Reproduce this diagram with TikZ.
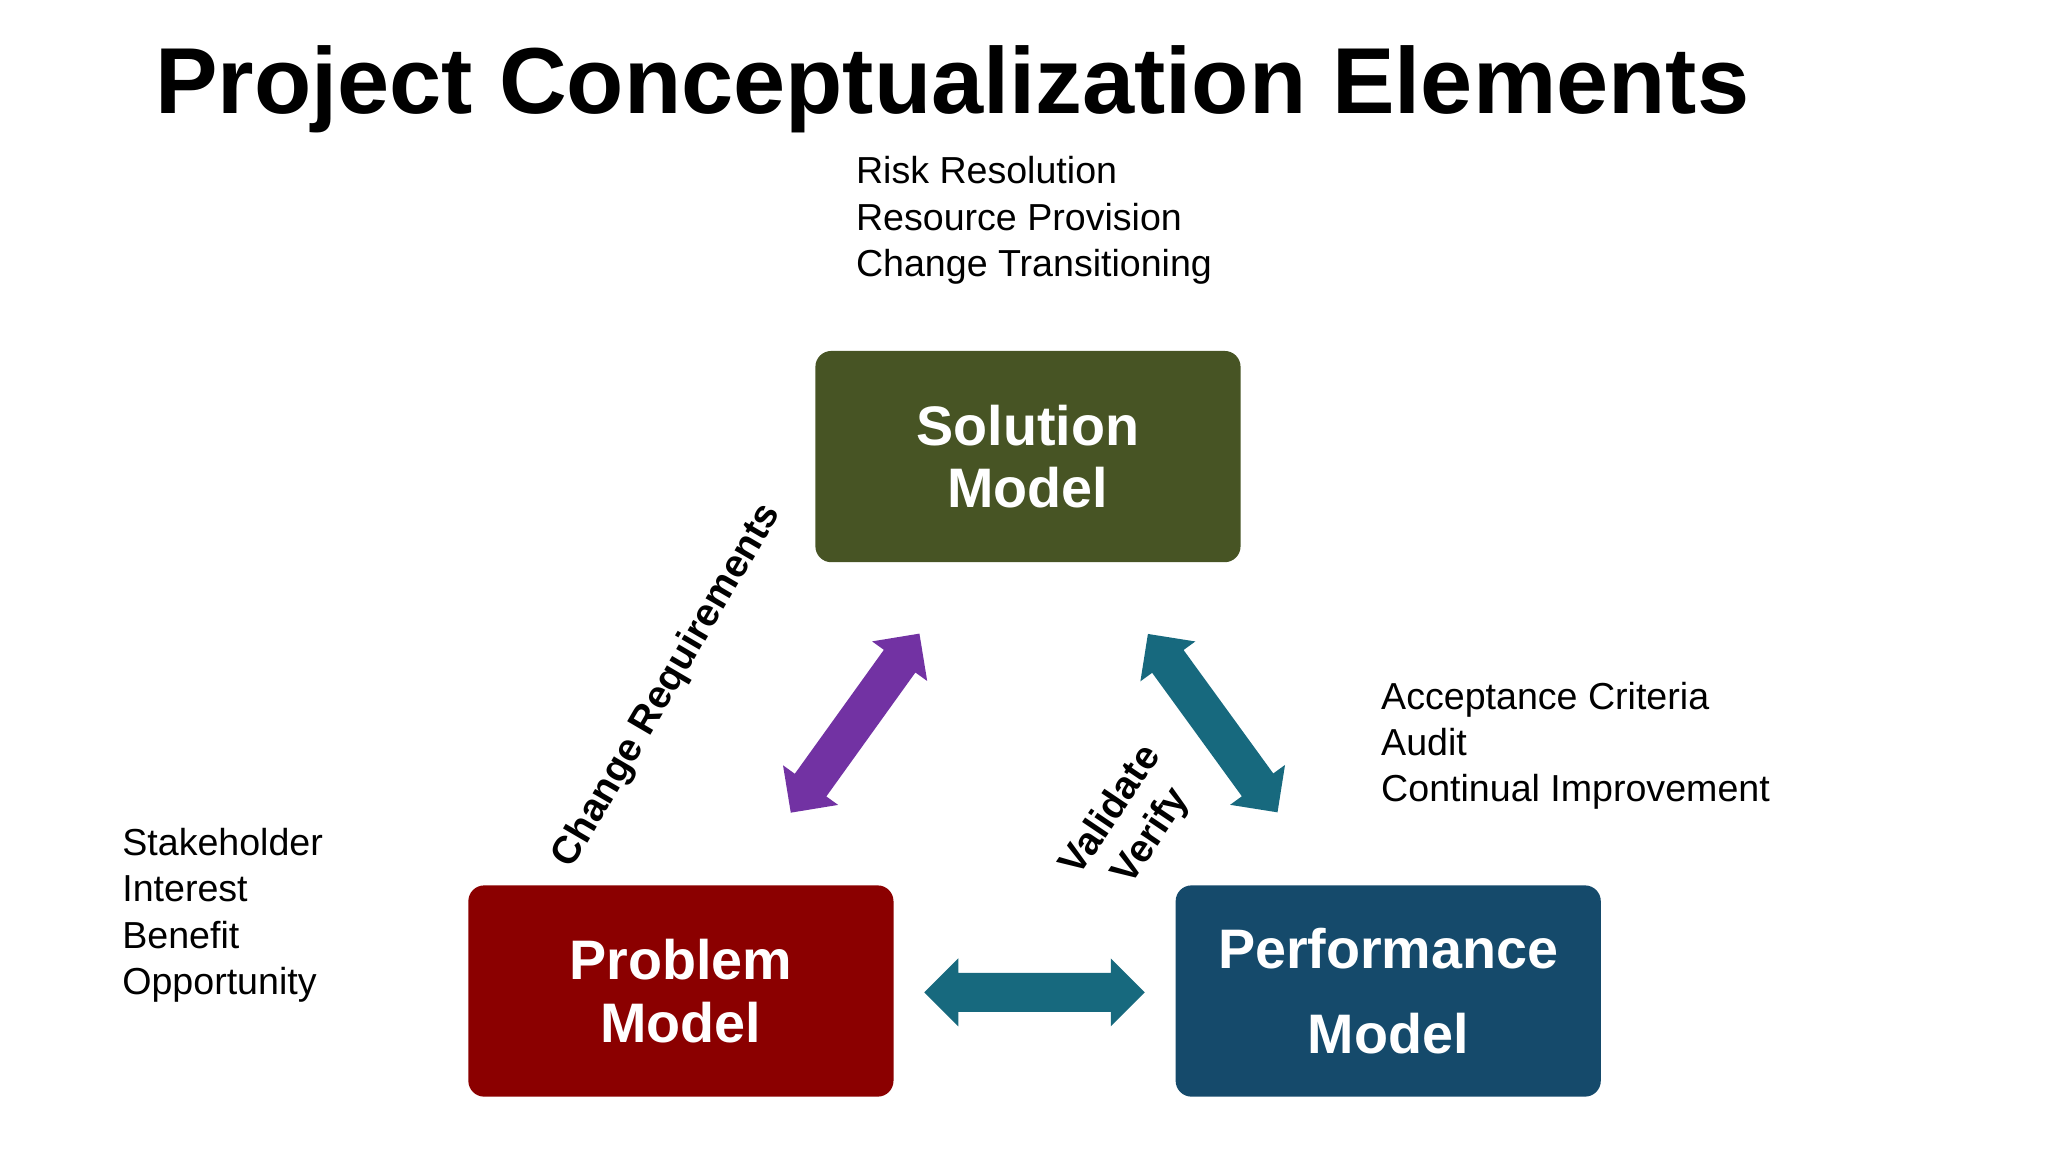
\documentclass[tikz,border=0pt]{standalone}
\usepackage{fontspec}
\setmainfont{Liberation Sans}
\usetikzlibrary{shapes.arrows}
\definecolor{olive}{HTML}{475424}
\definecolor{darkred}{HTML}{8B0000}
\definecolor{navy}{HTML}{154A6B}
\definecolor{purp}{HTML}{7232A3}
\definecolor{teal}{HTML}{17697E}
\begin{document}
\begin{tikzpicture}[x=0.01cm,y=-0.01cm,
  box/.style={rounded corners=0.12cm, minimum width=3.22cm, minimum height=1.6cm, text=white, font=\fontsize{12}{13.5}\selectfont\bfseries, align=center, inner sep=0},
  lst/.style={anchor=north west, align=left, font=\fontsize{8.1}{10}\selectfont, inner sep=0},
  arr/.style={double arrow, inner sep=0.14cm, double arrow head extend=0.11cm, minimum height=1.67cm, draw=none},
  lab/.style={font=\fontsize{8.4}{10}\selectfont\bfseries, inner sep=0}]
\useasboundingbox (0,0) rectangle (1552,873);
\node[anchor=west, font=\fontsize{20.2}{24}\selectfont\bfseries, inner sep=0] (title) at (117,68) {Project Conceptualization Elements};
\node[box, fill=olive] (sol) at (779,346) {Solution\\Model};
\node[box, fill=darkred] (prob) at (516,751) {Problem\\Model};
\node[box, fill=navy, font=\fontsize{12}{18.2}\selectfont\bfseries] (perf) at (1052,751) {Performance\\Model};
\node[lst] (tl) at (648,118) {Risk Resolution\\Resource Provision\\Change Transitioning};
\node[lst] (rl) at (1046,516) {Acceptance Criteria\\Audit\\Continual Improvement};
\node[lst] (ll) at (92,627) {Stakeholder\\Interest\\Benefit\\Opportunity};
\node[arr, fill=purp, rotate=54.3] (a1) at (648,548) {};
\node[arr, fill=teal, rotate=-54] (a2) at (919,548) {};
\node[arr, fill=teal] (a3) at (784,752) {};
\node[lab, rotate=59.7] (cr) at (506,520) {Change Requirements};
\node[lab, rotate=56] (va) at (840,613) {Validate};
\node[lab, rotate=56] (ve) at (873,634) {Verify};
\end{tikzpicture}
\end{document}
